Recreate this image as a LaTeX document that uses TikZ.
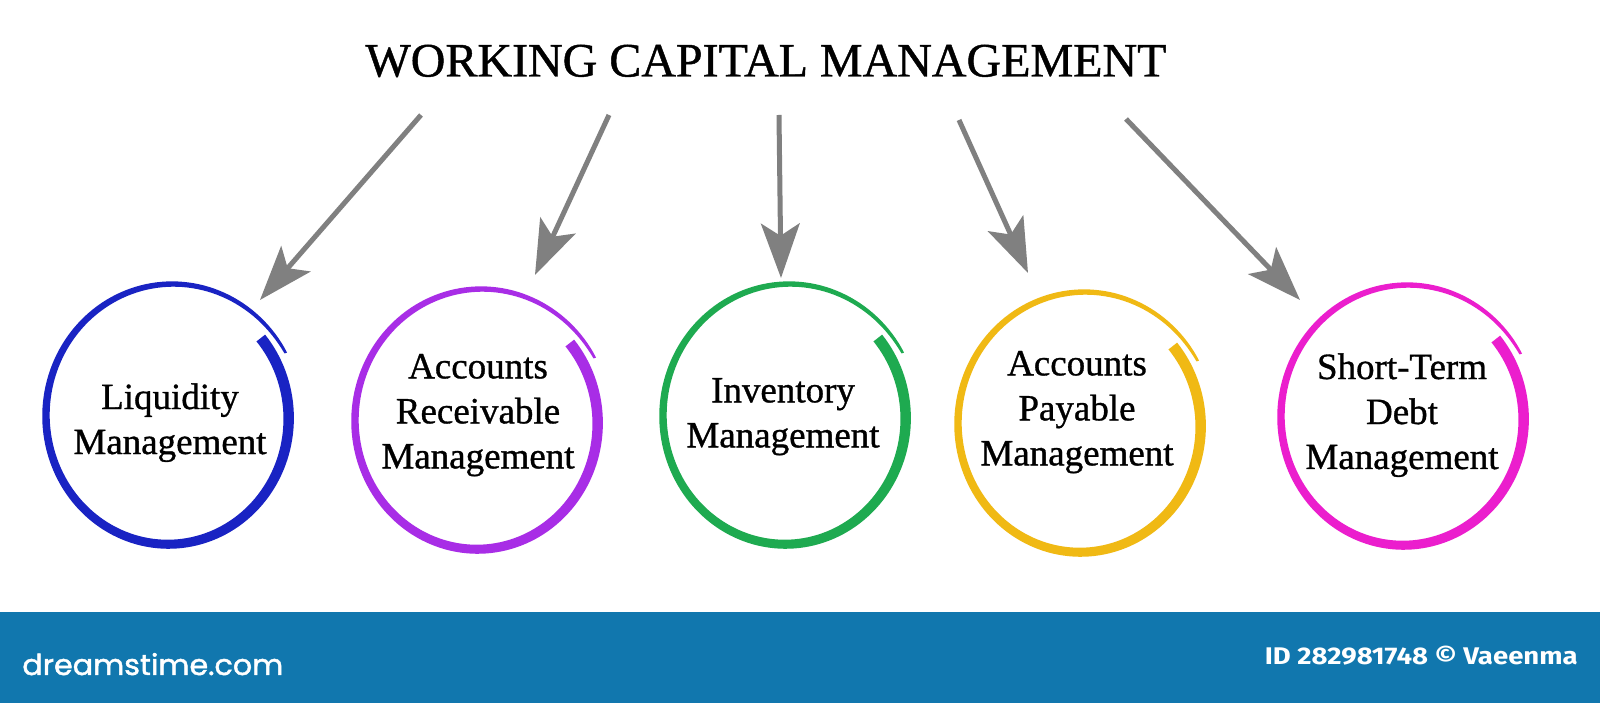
\documentclass[tikz,border=0pt]{standalone}
\usepackage{fontspec}
\usepackage{graphicx}
\setmainfont{Liberation Serif}
\newfontfamily\heavyserif{Liberation Serif}[FakeBold=0.9]
\newfontfamily\dsfont{Poppins}[FakeBold=1.6]
\newfontfamily\idfont{Fira Sans}
\usetikzlibrary{arrows.meta}
\definecolor{cblue}{RGB}{25,35,195}
\definecolor{cpurple}{RGB}{168,45,230}
\definecolor{cgreen}{RGB}{30,170,80}
\definecolor{cyellow}{RGB}{240,185,20}
\definecolor{cmagenta}{RGB}{235,30,205}
\definecolor{arrgray}{RGB}{128,128,128}
\definecolor{bandblue}{RGB}{17,119,174}
\newcommand\ringstroke[3]{%
\fill[#3] plot[domain=0:1,samples=160,variable=\q]
 ({#1+(128*(0.93+0.1*(1-\q)^2)+(1.25+4.25*\q^0.6))*cos(28+372*\q)},
  {#2+(134*(0.93+0.1*(1-\q)^2)+(1.25+4.25*\q^0.6))*sin(28+372*\q)})
 -- plot[domain=0:1,samples=160,variable=\q]
 ({#1+(128*(0.93+0.1*\q^2)-(1.25+4.25*(1-\q)^0.6))*cos(400-372*\q)},
  {#2+(134*(0.93+0.1*\q^2)-(1.25+4.25*(1-\q)^0.6))*sin(400-372*\q)}) -- cycle;}
\tikzset{
  arr/.style={draw=arrgray,line width=2.85pt,-{Stealth[length=31pt,width=22pt,inset=7pt]}},
  lbl/.style={anchor=north,align=center,inner sep=0pt,font={\heavyserif\fontsize{21.05pt}{25.61pt}\selectfont}},
  ttl/.style={anchor=base,inner sep=0pt,font={\heavyserif\fontsize{27.31pt}{32pt}\selectfont}}
}
\begin{document}
\begin{tikzpicture}[x=0.02cm,y=0.02cm]
\useasboundingbox (0,0) rectangle (1600,703);
\fill[white] (0,0) rectangle (1600,703);
% title
\node[ttl] (title) at (766,626.5) {WORKING CAPITAL MANAGEMENT};
% circles
\ringstroke{169.5}{285}{cblue}
\ringstroke{478.5}{280}{cpurple}
\ringstroke{786.5}{285}{cgreen}
\ringstroke{1081.5}{277}{cyellow}
\ringstroke{1404.5}{284}{cmagenta}
% labels
\node[lbl] (t1) at (170,320) {\rule{0pt}{14.23pt}Liquidity\\Management};
\node[lbl] (t2) at (478,350) {\rule{0pt}{14.23pt}Accounts\\Receivable\\Management};
\node[lbl] (t3) at (783,326) {\rule{0pt}{14.23pt}Inventory\\Management};
\node[lbl] (t4) at (1077,353) {\rule{0pt}{14.23pt}Accounts\\Payable\\Management};
\node[lbl] (t5) at (1402,350) {\rule{0pt}{14.23pt}Short-Term\\Debt\\Management};
% arrows
\coordinate (s1) at (421,588); \coordinate (e1) at (260,403);
\coordinate (s2) at (609,588); \coordinate (e2) at (535,428);
\coordinate (s3) at (779,588); \coordinate (e3) at (781,425);
\coordinate (s4) at (959,583); \coordinate (e4) at (1028,430);
\coordinate (s5) at (1126,584); \coordinate (e5) at (1300,403);
\draw[arr] (s1) -- (e1);
\draw[arr] (s2) -- (e2);
\draw[arr] (s3) -- (e3);
\draw[arr] (s4) -- (e4);
\draw[arr] (s5) -- (e5);
% bottom band
\fill[bandblue] (0,0) rectangle (1600,91);
\node[anchor=base west,inner sep=0pt,text=white] (ds) at (22,28)
  {\resizebox{148.5pt}{12.5pt}{\dsfont dreamstime.com}};
\node[anchor=base east,inner sep=0pt,text=white] (id) at (1578,38)
  {\resizebox{178pt}{10.5pt}{\idfont\bfseries ID 282981748 © Vaeenma}};
\end{tikzpicture}
\end{document}
